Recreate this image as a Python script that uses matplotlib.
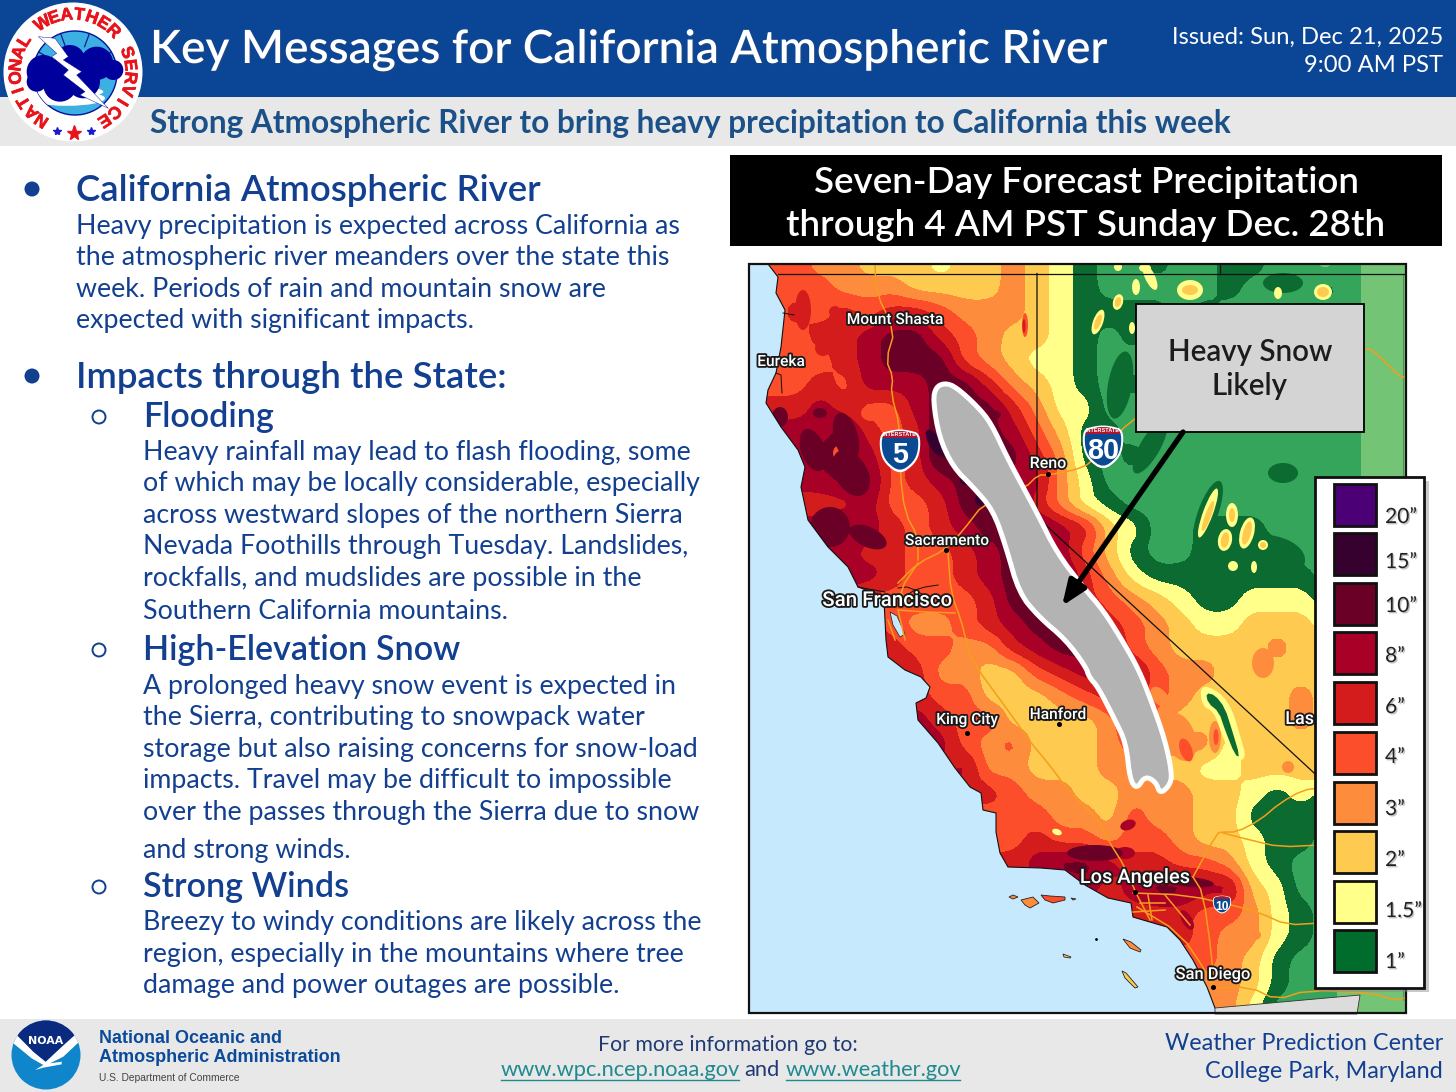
import numpy as np
import matplotlib
matplotlib.use("Agg")
import matplotlib.pyplot as plt
from matplotlib.patches import Polygon, Rectangle, Circle, Ellipse
import matplotlib.patheffects as pe

FONT = "Lato"
MAPFONT = "Roboto"
BLUE = "#0b4596"
TEXTBLUE = "#123f90"
BAND = "#e8e8e8"

# ---- text content ----
TITLE = "Key Messages for California Atmospheric River"
ISSUED = ["Issued: Sun, Dec 21, 2025", "9:00 AM PST"]
SUBTITLE = "Strong Atmospheric River to bring heavy precipitation to California this week"
PANEL_TITLE = ["Seven-Day Forecast Precipitation", "through 4 AM PST Sunday Dec. 28th"]
HEADINGS = [("California Atmospheric River", 76, 201, 36.6), ("Impacts through the State:", 76, 388, 36.6),
            ("Flooding", 143, 427, 34.2), ("High-Elevation Snow", 143, 660, 34.2), ("Strong Winds", 143, 897, 34.2)]
BODY = [
    ("Heavy precipitation is expected across California as", 76, 234),
    ("the atmospheric river meanders over the state this", 76, 265),
    ("week. Periods of rain and mountain snow are", 76, 297),
    ("expected with significant impacts.", 76, 328),
    ("Heavy rainfall may lead to flash flooding, some", 143, 460),
    ("of which may be locally considerable, especially", 143, 491),
    ("across westward slopes of the northern Sierra", 143, 523),
    ("Nevada Foothills through Tuesday. Landslides,", 143, 554),
    ("rockfalls, and mudslides are possible in the", 143, 586),
    ("Southern California mountains.", 143, 619),
    ("A prolonged heavy snow event is expected in", 143, 694),
    ("the Sierra, contributing to snowpack water", 143, 725),
    ("storage but also raising concerns for snow-load", 143, 757),
    ("impacts. Travel may be difficult to impossible", 143, 788),
    ("over the passes through the Sierra due to snow", 143, 820),
    ("and strong winds.", 143, 858),
    ("Breezy to windy conditions are likely across the", 143, 930),
    ("region, especially in the mountains where tree", 143, 962),
    ("damage and power outages are possible.", 143, 993),
]
BULLETS_SOLID = [(32, 189), (32, 376)]
BULLETS_OPEN = [(99, 417), (99, 650), (99, 887)]

# ---- legend ----
LEGEND_LABELS = ["20”", "15”", "10”", "8”", "6”", "4”", "3”", "2”", "1.5”", "1”"]
LEGEND_COLORS = ["#4b0076", "#36002f", "#6b0026", "#a80026", "#d41c1c", "#fc4e2a", "#fd8d3c", "#fecb50", "#ffff8a", "#006d2c"]
LEGEND_TOPS = [484, 533, 583, 632, 682, 732, 782, 831, 881, 930]
LEGEND_TEXT_Y = [523, 568, 612, 662, 713, 763, 815, 866, 917, 968]

# ---- precipitation classes read from the map ----
# 0 <0.5", 1 0.5", 2 1", 3 1.5", 4 2", 5 3", 6 4", 7 6", 8 8", 9 10", a 15"
CLASS_COLORS = ["#74c476", "#34a55a", "#0b6b30", "#ffff8a", "#fecb50", "#fd8d3c", "#fc4e2a", "#d41c1c", "#a80026", "#6b0026", "#36002f"]
GRID_X0, GRID_Y0, GRID_STEP = 749, 264, 24
PRECIP_ROWS = [
    "66655444344543211211221101000",
    "66665554444543211111211121000",
    "66767677655543222212111111000",
    "66677899765443212111111111000",
    "66667899965433211111111111000",
    "66676888997543212111111111000",
    "77787668999753311111111111000",
    "88889767a99864221111111111000",
    "88899867a99975212111111111000",
    "77889967899885311111111111000",
    "77777866799975321111111111000",
    "88889876789998743112221111100",
    "88888776678998642112222111100",
    "88888876678999753222222211100",
    "77777666667999765432233321100",
    "77777765567899876543344432110",
    "77777776655789986544445443211",
    "77777787554467888655444444321",
    "77777777664445677654444544321",
    "77777788766444457544444544321",
    "77777788865644456555344444321",
    "77777777785544455443344454321",
    "77777777777655445554432321100",
    "77777766666665546554422221100",
    "77777766666676656654432211000",
    "77777777777789987766532111000",
    "77777777777777878998843110000",
    "77777777777777777776653210000",
    "77777777777777777676553210000",
    "66666666666666666666542110000",
    "55555555555555555555542110000",
    "55555555555555555555531110000",
    "55555555555555555555531110000",
]
# small features finer than the grid: x, y, half width, half height, tilt, class
MAP_BLOBS = [
    (803,310,8,20,0,7), (823,348,8,8,0,7), (835,312,6,6,0,7), (871,413,10,8,0,6), (838,453,5,7,0,6),
    (780,417,8,10,0,9), (820,413,7,5,0,9), (846,437,12,25,-15,9), (813,450,12,22,-20,9), (851,473,16,25,-30,9),
    (830,527,20,20,-30,9), (868,537,20,10,25,9), (935,443,6,15,-30,10), (965,480,5,5,0,10), (981,500,6,6,0,10), (991,415,10,5,0,9),
    (1257,560,48,26,0,2), (1150,447,10,30,30,2), (1283,473,15,10,0,2), (1283,283,20,10,0,2), (1120,385,12,34,10,2),
    (1208,513,10,34,20,2), (1208,513,5,26,20,3), (1208,516,3,16,20,4),
    (1232,515,6,12,0,3), (1232,515,3,7,0,4),
    (1225,540,7,11,10,3), (1225,540,4,8,10,4),
    (1247,533,7,16,15,3), (1247,533,4,12,15,4),
    (1263,545,5,5,0,3), (1263,545,3,3,0,4), (1233,566,5,5,0,3), (1254,567,3,6,0,3),
    (1190,290,13,10,0,3), (1190,290,8,5,0,4), (1150,277,5,14,-25,3), (1136,287,4,8,0,3),
    (1118,302,5,8,15,3), (1118,302,3,5,15,4), (1098,322,5,13,20,3), (1098,322,3,8,20,4), (1132,328,3,6,0,3),
    (1323,292,9,8,0,3), (1323,292,6,5,0,4), (1278,293,4,6,0,3), (1118,267,4,4,0,3), (1145,268,6,4,0,3),
    (1263,663,11,15,0,5), (1180,737,15,25,-20,5), (1186,750,6,12,-20,6), (1215,737,6,16,0,5), (1216,737,2.5,8,0,6),
    (1288,767,6,6,0,5), (1160,697,12,7,50,5), (1128,825,8,5,-20,8), (1125,853,10,6,0,8),
    (1255,935,6,5,0,5), (1187,920,5,11,-30,8), (1190,882,24,5,5,9), (1057,832,5,3,20,3),
    (1095,853,28,8,0,9), (1025,325,3,12,0,6), (1024,326,1.5,7,0,7),
]
NV_STRIP_HALO = [(1200,685),(1217,690),(1231,706),(1240,735),(1247,760),(1232,760),(1221,732),(1214,712),(1202,706)]
NV_STRIP = [(1206,693),(1215,695),(1225,708),(1232,730),(1240,757),(1235,755),(1225,730),(1219,712),(1208,703)]

# ---- geography, in picture pixels ----
COAST = [(768,264),(778,277),(776,293),(785,310),(781,347),(776,373),(768,390),(766,403),(781,427),(798,450),(805,467),
         (801,487),(808,520),(828,547),(848,567),(858,587),(875,593),(884,600),(886,640),(888,657),(905,670),(921,677),(930,687),
         (926,698),(916,703),(918,720),(938,743),(955,768),(970,787),(981,793),(983,810),(996,813),(996,832),(1000,853),
         (1008,867),(1041,868),(1065,870),(1085,885),(1108,898),(1131,903),(1133,917),(1143,920),(1167,927),(1180,940),
         (1193,960),(1207,987),(1215,1008)]
MEXICO = [(1215,1008),(1360,995),(1357,1014),(1215,1014)]
BAY = [(890,612),(897,616),(905,634),(900,637),(893,625)]
DELTA = [[(898,588),(907,587),(915,590),(925,587),(938,585)], [(905,596),(915,590),(922,594)], [(776,373),(781,375),(782,393)], [(783,313),(794,315)], [(885,592),(858,587)]]
ISLANDS = [([(1009,897),(1013,895),(1018,897),(1013,899)], 5),
           ([(1021,900),(1033,897),(1039,903),(1030,908),(1025,905)], 5),
           ([(1041,895),(1050,896),(1065,897),(1065,900),(1053,903),(1045,900)], 6),
           ([(1071,898),(1076,899),(1073,900)], 5),
           ([(1123,939),(1131,942),(1141,950),(1140,952),(1130,948)], 5),
           ([(1063,954),(1071,957),(1070,958),(1064,957)], 4),
           ([(1122,971),(1126,973),(1138,987),(1135,988),(1125,978)], 4)]
BORDERS = [[(778,273.5),(1404,273.5)], [(1037,273.5),(1037,517),(1313,772),(1340,800)], [(1220,264),(1220,273.5)], [(1403,273.5),(1403,1000)]]
ROADS = [
    [(875,264),(876,293),(895,330),(886,360),(893,377),(891,393),(900,427),(900,473),(905,513),(918,537),(918,560)],
    [(948,553),(951,593),(961,620),(966,640),(971,660),(1015,720),(1031,743),(1048,763),(1068,790),(1101,823),(1108,840),(1125,867),(1136,893)],
    [(898,583),(918,563),(945,550),(961,533),(985,502),(1025,488),(1038,475),(1048,475),(1075,470),(1091,463),(1121,430),(1136,418)],
    [(1365,349),(1373,350),(1400,377),(1406,377)],
    [(898,610),(925,612),(955,613)], [(905,600),(900,590),(918,563)], [(898,610),(905,640)], [(888,620),(895,640)],
    [(1193,877),(1217,833),(1223,832),(1237,832),(1260,820),(1280,803),(1303,790),(1320,788)],
    [(1223,833),(1250,840),(1280,847),(1320,845)],
    [(1133,893),(1187,895),(1240,907),(1260,913),(1287,925),(1320,923)],
    [(1213,988),(1250,987),(1277,1000),(1307,990),(1373,993),(1393,1000),(1406,998)],
    [(1137,907),(1180,933),(1207,973),(1213,988)],
    [(1193,877),(1203,893),(1212,957),(1213,988)],
    [(1136,893),(1150,920)], [(1140,903),(1165,903)], [(1148,895),(1152,920)], [(1133,912),(1165,910)], [(1165,895),(1190,925)],
]
SNOW_AREA = [(945,383),(956,387),(977,406),(991,423),(1007,457),(1023,487),(1037,513),(1057,553),(1083,587),(1103,610),(1122,640),
             (1139,670),(1152,703),(1165,740),(1172,773),(1170,785),(1160,794),(1156,782),(1145,776),(1137,789),(1130,780),(1126,743),
             (1115,720),(1098,687),(1089,677),(1086,667),(1066,640),(1039,617),(1019,593),(1006,547),(993,510),(973,487),(953,467),
             (939,437),(933,400),(936,387)]
CITIES = [("Mount Shasta", 895, 324, 15.5, None), ("Eureka", 781, 366, 15.5, None), ("Reno", 1048, 468, 16, (1048, 474)),
          ("Sacramento", 947, 545, 15.5, (946, 550)), ("San Francisco", 887, 606, 20.5, None), ("King City", 967, 724, 15.5, (967, 733)),
          ("Hanford", 1058, 719, 15.5, (1059, 724)), ("Los Angeles", 1135, 883, 20, (1135, 892)), ("San Diego", 1213, 979, 16.5, (1213, 987)),
          ("Las Vegas", 1327, 724, 18, None)]
SHIELDS = [("5", 900, 452, 20, 24), ("80", 1103, 448, 20, 24), ("10", 1222, 905, 9, 10)]

fig = plt.figure(figsize=(14.56, 10.92), dpi=100, facecolor="white")
ax = fig.add_axes([0, 0, 1, 1])
ax.set_xlim(0, 1456)
ax.set_ylim(1092, 0)
ax.axis("off")
px = 0.72


def T(x, y, s, size, color="black", ha="left", weight="normal", family=FONT, z=10, **kw):
    return ax.text(x, y, s, fontsize=size * px, color=color, ha=ha, va="baseline", fontweight=weight, family=family, zorder=z, **kw)


def smooth(pts, n=2, closed=True):
    p = np.asarray(pts, float)
    for _ in range(n):
        if closed:
            q = np.roll(p, -1, axis=0)
            p = np.column_stack([0.75 * p + 0.25 * q, 0.25 * p + 0.75 * q]).reshape(-1, 2)
        else:
            a, b = p[:-1], p[1:]
            m = np.column_stack([0.75 * a + 0.25 * b, 0.25 * a + 0.75 * b]).reshape(-1, 2)
            p = np.vstack([p[0], m, p[-1]])
    return p


def refine(x, y, z, k=6, w=5):
    """Finer contouring lattice, so the class boundaries do not follow the read grid's diagonals."""
    fx = np.linspace(x[0], x[-1], (len(x) - 1) * k + 1)
    fy = np.linspace(y[0], y[-1], (len(y) - 1) * k + 1)
    a = np.array([np.interp(fx, x, r) for r in z])
    a = np.array([np.interp(fy, y, c) for c in a.T]).T
    ker = np.ones(w) / w
    a = np.apply_along_axis(lambda v: np.convolve(np.pad(v, w // 2, mode="edge"), ker, mode="valid"), 0, a)
    a = np.apply_along_axis(lambda v: np.convolve(np.pad(v, w // 2, mode="edge"), ker, mode="valid"), 1, a)
    return fx, fy, a


# ---- page bands ----
ax.add_patch(Rectangle((0, 0), 1456, 97, fc=BLUE, ec="none", zorder=1))
ax.add_patch(Rectangle((0, 97), 1456, 49, fc=BAND, ec="none", zorder=1))
ax.add_patch(Rectangle((0, 1019), 1456, 73, fc=BAND, ec="none", zorder=1))
T(150, 63, TITLE, 46, "white", weight="semibold", path_effects=[pe.withSimplePatchShadow(offset=(1, -1), alpha=0.25)])
T(1443, 44, ISSUED[0], 23.7, "white", ha="right")
T(1443, 72, ISSUED[1], 23.7, "white", ha="right")
T(150, 133, SUBTITLE, 31.7, "#1c5088", weight="bold")

# ---- left column ----
for s, x, y, size in HEADINGS:
    T(x, y, s, size, TEXTBLUE, weight="semibold")
for s, x, y in BODY:
    T(x, y, s, 26.75, TEXTBLUE)
for x, y in BULLETS_SOLID:
    ax.add_patch(Circle((x, y), 7.5, fc=TEXTBLUE, ec="none", zorder=5))
for x, y in BULLETS_OPEN:
    ax.add_patch(Circle((x, y), 6.5, fc="none", ec=TEXTBLUE, lw=1.4, zorder=5))

# ---- right panel header ----
ax.add_patch(Rectangle((730, 155), 712, 91, fc="black", ec="none", zorder=2))
T(1086, 193, PANEL_TITLE[0], 36.8, "white", ha="center", weight="semibold")
T(1086, 236, PANEL_TITLE[1], 36.8, "white", ha="center", weight="semibold")

# ---- map ----
map_rect = Rectangle((749, 263.5), 657, 749.5, fc="#c6e9fd", ec="none", zorder=2)
ax.add_patch(map_rect)
levels = np.arange(-0.5, 11, 1)
grid = np.array([[int(c, 16) for c in r] for r in PRECIP_ROWS], float)
gx = GRID_X0 + GRID_STEP * np.arange(grid.shape[1])
gy = GRID_Y0 + GRID_STEP * np.arange(grid.shape[0])
land = Polygon(COAST + [(1215, 1013), (1406, 1013), (1406, 263.5)], closed=True, transform=ax.transData)
fx, fy, fine = refine(gx, gy, grid)
cf = ax.contourf(fx, fy, fine, levels=levels, colors=CLASS_COLORS, zorder=2.1)
cf.set_clip_path(land)
for i, (x, y, w, h, tilt, cls) in enumerate(MAP_BLOBS):
    e = Ellipse((x, y), 2 * w, 2 * h, angle=tilt, fc=CLASS_COLORS[cls], ec="none", zorder=2.2 + i * 1e-3)
    ax.add_patch(e)
    e.set_clip_path(land)
ax.add_patch(Polygon(smooth(NV_STRIP_HALO), fc=CLASS_COLORS[3], ec="none", zorder=2.3))
ax.add_patch(Polygon(smooth(NV_STRIP, 1), fc=CLASS_COLORS[2], ec="none", zorder=2.31))
ax.plot(*np.array(COAST).T, color="#111111", lw=0.8, zorder=2.5)
for d in DELTA:
    ax.plot(*np.array(d).T, color="#111111", lw=0.7, zorder=2.5)
ax.add_patch(Polygon(BAY, fc="#c6e9fd", ec="#222222", lw=0.5, zorder=2.6))
for pts, cls in ISLANDS:
    ax.add_patch(Polygon(pts, fc=CLASS_COLORS[cls], ec="#222222", lw=0.6, zorder=2.5))
ax.plot(1096, 939, ".", color="black", ms=2, zorder=2.5)
ax.add_patch(Polygon(MEXICO, fc="#dcdcdc", ec="#333333", lw=0.6, zorder=2.6))
for b in BORDERS[:3]:
    ax.plot(*np.array(b).T, color="#111111", lw=0.9, zorder=2.8)
ax.plot(*np.array(BORDERS[3]).T, color="#222222", lw=0.5, alpha=.5, zorder=2.8)
for r in ROADS:
    line, = ax.plot(*smooth(r, 1, closed=False).T, color="#f59e1b", lw=1.1, zorder=3)
    line.set_clip_path(map_rect)
ax.add_patch(Polygon(smooth(SNOW_AREA, 2), fc="#b3b3b3", ec="white", lw=3.6, zorder=4, joinstyle="round"))
for name, x, y, size, dot in CITIES:
    t = T(x, y, name, size, "white", ha="center", weight="medium", family=MAPFONT, z=5,
          path_effects=[pe.withStroke(linewidth=2.6, foreground="#1a1a1a")])
    if dot:
        ax.plot(*dot, "o", color="black", ms=2.6, zorder=4.9)
for num, x, y, hw, h in SHIELDS:
    outline = np.array([(-1, .1), (-.5, .03), (0, .0), (.5, .03), (1, .1), (1.02, .5), (.75, .8), (0, 1.05), (-.75, .8), (-1.02, .5)])
    o = smooth(outline, 2) * [hw, 2 * h / 1.05 * .95] + [x, y - h * .95]
    ax.add_patch(Polygon(o, fc="white", ec="none", zorder=5))
    inner = smooth(outline * .9 + [0, .04], 2) * [hw, 2 * h / 1.05 * .95] + [x, y - h * .95]
    body = Polygon(inner, fc="#0a4a92", ec="none", zorder=5.1)
    ax.add_patch(body)
    top = Rectangle((x - hw, y - h), 2 * hw, h * .42, fc="#b0152f", ec="none", zorder=5.2)
    ax.add_patch(top)
    top.set_clip_path(body)
    T(x, y + h * .45, num, h * 1.2, "white", ha="center", weight="bold", family="Liberation Sans", z=5.3)
    if hw > 15:
        T(x, y - h * .68, "INTERSTATE", 5.5, "white", ha="center", weight="bold", family="Liberation Sans", z=5.3)
ax.add_patch(Rectangle((749, 263.5), 657, 749.5, fc="none", ec="#111111", lw=1.6, zorder=5.5))

# ---- callout ----
ax.add_patch(Rectangle((1136, 304), 228, 128, fc="#d4d4d4", ec="black", lw=1.3, zorder=6))
T(1250, 361, "Heavy Snow", 29.5, "#1c1c1c", ha="center", weight="semibold", z=6.2)
T(1250, 395, "Likely", 29.5, "#1c1c1c", ha="center", weight="semibold", z=6.2)
ax.annotate("", xy=(1062, 606), xytext=(1183, 432), zorder=7,
            arrowprops=dict(arrowstyle="-|>,head_length=1.5,head_width=0.6", lw=3.8, color="black", shrinkA=0, shrinkB=0))

# ---- legend ----
ax.add_patch(Rectangle((1319, 481), 110, 511, fc="#888888", ec="none", alpha=0.45, zorder=7.8))
ax.add_patch(Rectangle((1314.5, 476.5), 109, 511, fc="white", ec="#111111", lw=2, zorder=8))
for c, top_, lab, ty in zip(LEGEND_COLORS, LEGEND_TOPS, LEGEND_LABELS, LEGEND_TEXT_Y):
    ax.add_patch(Rectangle((1333.5, top_), 42, 42, fc=c, ec="#111111", lw=2, zorder=8.2))
    T(1385, ty, lab, 21, "#222222", z=8.3, path_effects=[pe.withSimplePatchShadow(offset=(1, -1), alpha=0.25)])

# ---- footer ----
T(728, 1051, "For more information go to:", 21.3, "#1f3a72", ha="center")
LINK = "#1f8a8f"
T(620, 1076, "www.wpc.ncep.noaa.gov", 21.9, LINK, ha="center")
T(762, 1076, "and", 21.9, "#1f3a72", ha="center")
T(873, 1076, "www.weather.gov", 21.9, LINK, ha="center")
ax.plot([501, 739], [1080, 1080], color=LINK, lw=1, zorder=9)
ax.plot([786, 960], [1080, 1080], color=LINK, lw=1, zorder=9)
T(1443, 1050, "Weather Prediction Center", 23.4, TEXTBLUE, ha="right")
T(1443, 1078, "College Park, Maryland", 23.4, TEXTBLUE, ha="right")
T(99, 1043, "National Oceanic and", 18, "#0b4a9a", weight="bold", family="Liberation Sans")
T(99, 1062, "Atmospheric Administration", 18, "#0b4a9a", weight="bold", family="Liberation Sans")
T(99, 1081, "U.S. Department of Commerce", 10.3, "#444444", family="Liberation Sans")

# ---- NOAA emblem ----
disc = Circle((46, 1055), 34.5, fc="#0f85cb", ec="none", zorder=5)
ax.add_patch(disc)
NOAA_WHITE = [(40,85),(52,58),(100,110),(137,140),(180,100),(222,58),(238,80),(190,125),(150,145),(185,140),(185,148),(130,158),(105,165),(130,150),(95,130)]
NOAA_NAVY = [(45,55),(80,25),(137,10),(195,25),(227,58),(180,100),(137,140),(100,110)]
for pts, col, z in ((NOAA_WHITE, "white", 5.1), (NOAA_NAVY, "#0a2a7f", 5.2)):
    p = Polygon(np.array(pts) / 3 + [0, 1015], fc=col, ec="none", zorder=z)
    ax.add_patch(p)
    p.set_clip_path(disc)
T(46, 1044, "NOAA", 11, "white", ha="center", weight="bold", family="DejaVu Sans", z=6)

# ---- NWS emblem ----
NWS_C = (73, 72)
ax.add_patch(Circle(NWS_C, 69.5, fc="white", ec="none", zorder=11))
dial = Circle((75, 73), 42, fc="#3cb0e3", ec="#00109c", lw=1, zorder=11.1)
ax.add_patch(dial)
for ang in (-60, -20, 20, 60):
    a = np.radians(ang)
    ax.plot([75 + 28 * np.sin(a), 75 + 42 * np.sin(a)], [73 - 28 * np.cos(a), 73 - 42 * np.cos(a)], color="#10208c", lw=0.9, zorder=11.2)
NWS_WHITE = [(200,295,230,45), (200,275,220,35)]
for x, y, w, h in NWS_WHITE:
    e = Ellipse((x / 3, y / 3), w / 3, h / 3, fc="white", ec="none", zorder=11.3)
    ax.add_patch(e)
    e.set_clip_path(dial)
CLOUD = [(130,215,50),(210,180,45),(290,190,50),(340,210,30),(110,245,30),(180,255,50),(250,245,50)]
for x, y, r in CLOUD:
    ax.add_patch(Circle((x / 3, y / 3), r / 3, fc="#00009c", ec="none", zorder=11.4))
BOLT = [(115,110),(165,115),(205,170),(190,180),(245,215),(230,225),(325,325),(240,285),(255,275),(190,225),(205,210),(155,170),(170,160)]
ax.add_patch(Polygon(np.array(BOLT) / 3, fc="white", ec="#00009c", lw=0.3, zorder=11.5))
ax.plot([57, 91], [130.5, 130.5], "*", color="#1a1ad0", ms=6, zorder=11.5)
ax.plot([74], [133], "*", color="#e8141c", ms=11, zorder=11.5)
NWS_TEXT = "NATIONAL WEATHER SERVICE"
for i, ch in enumerate(NWS_TEXT):
    th = -147 + 294 * i / (len(NWS_TEXT) - 1)
    r = np.radians(th)
    ax.text(NWS_C[0] + 57 * np.sin(r), NWS_C[1] - 57 * np.cos(r), ch, fontsize=12.5, color="#e8141c", fontweight="bold",
            family="Liberation Sans", rotation=-th, rotation_mode="anchor", ha="center", va="center", zorder=11.6,
            path_effects=[pe.withStroke(linewidth=0.5, foreground="#e8141c")])

fig.savefig("out.png", dpi=100, facecolor="white")
